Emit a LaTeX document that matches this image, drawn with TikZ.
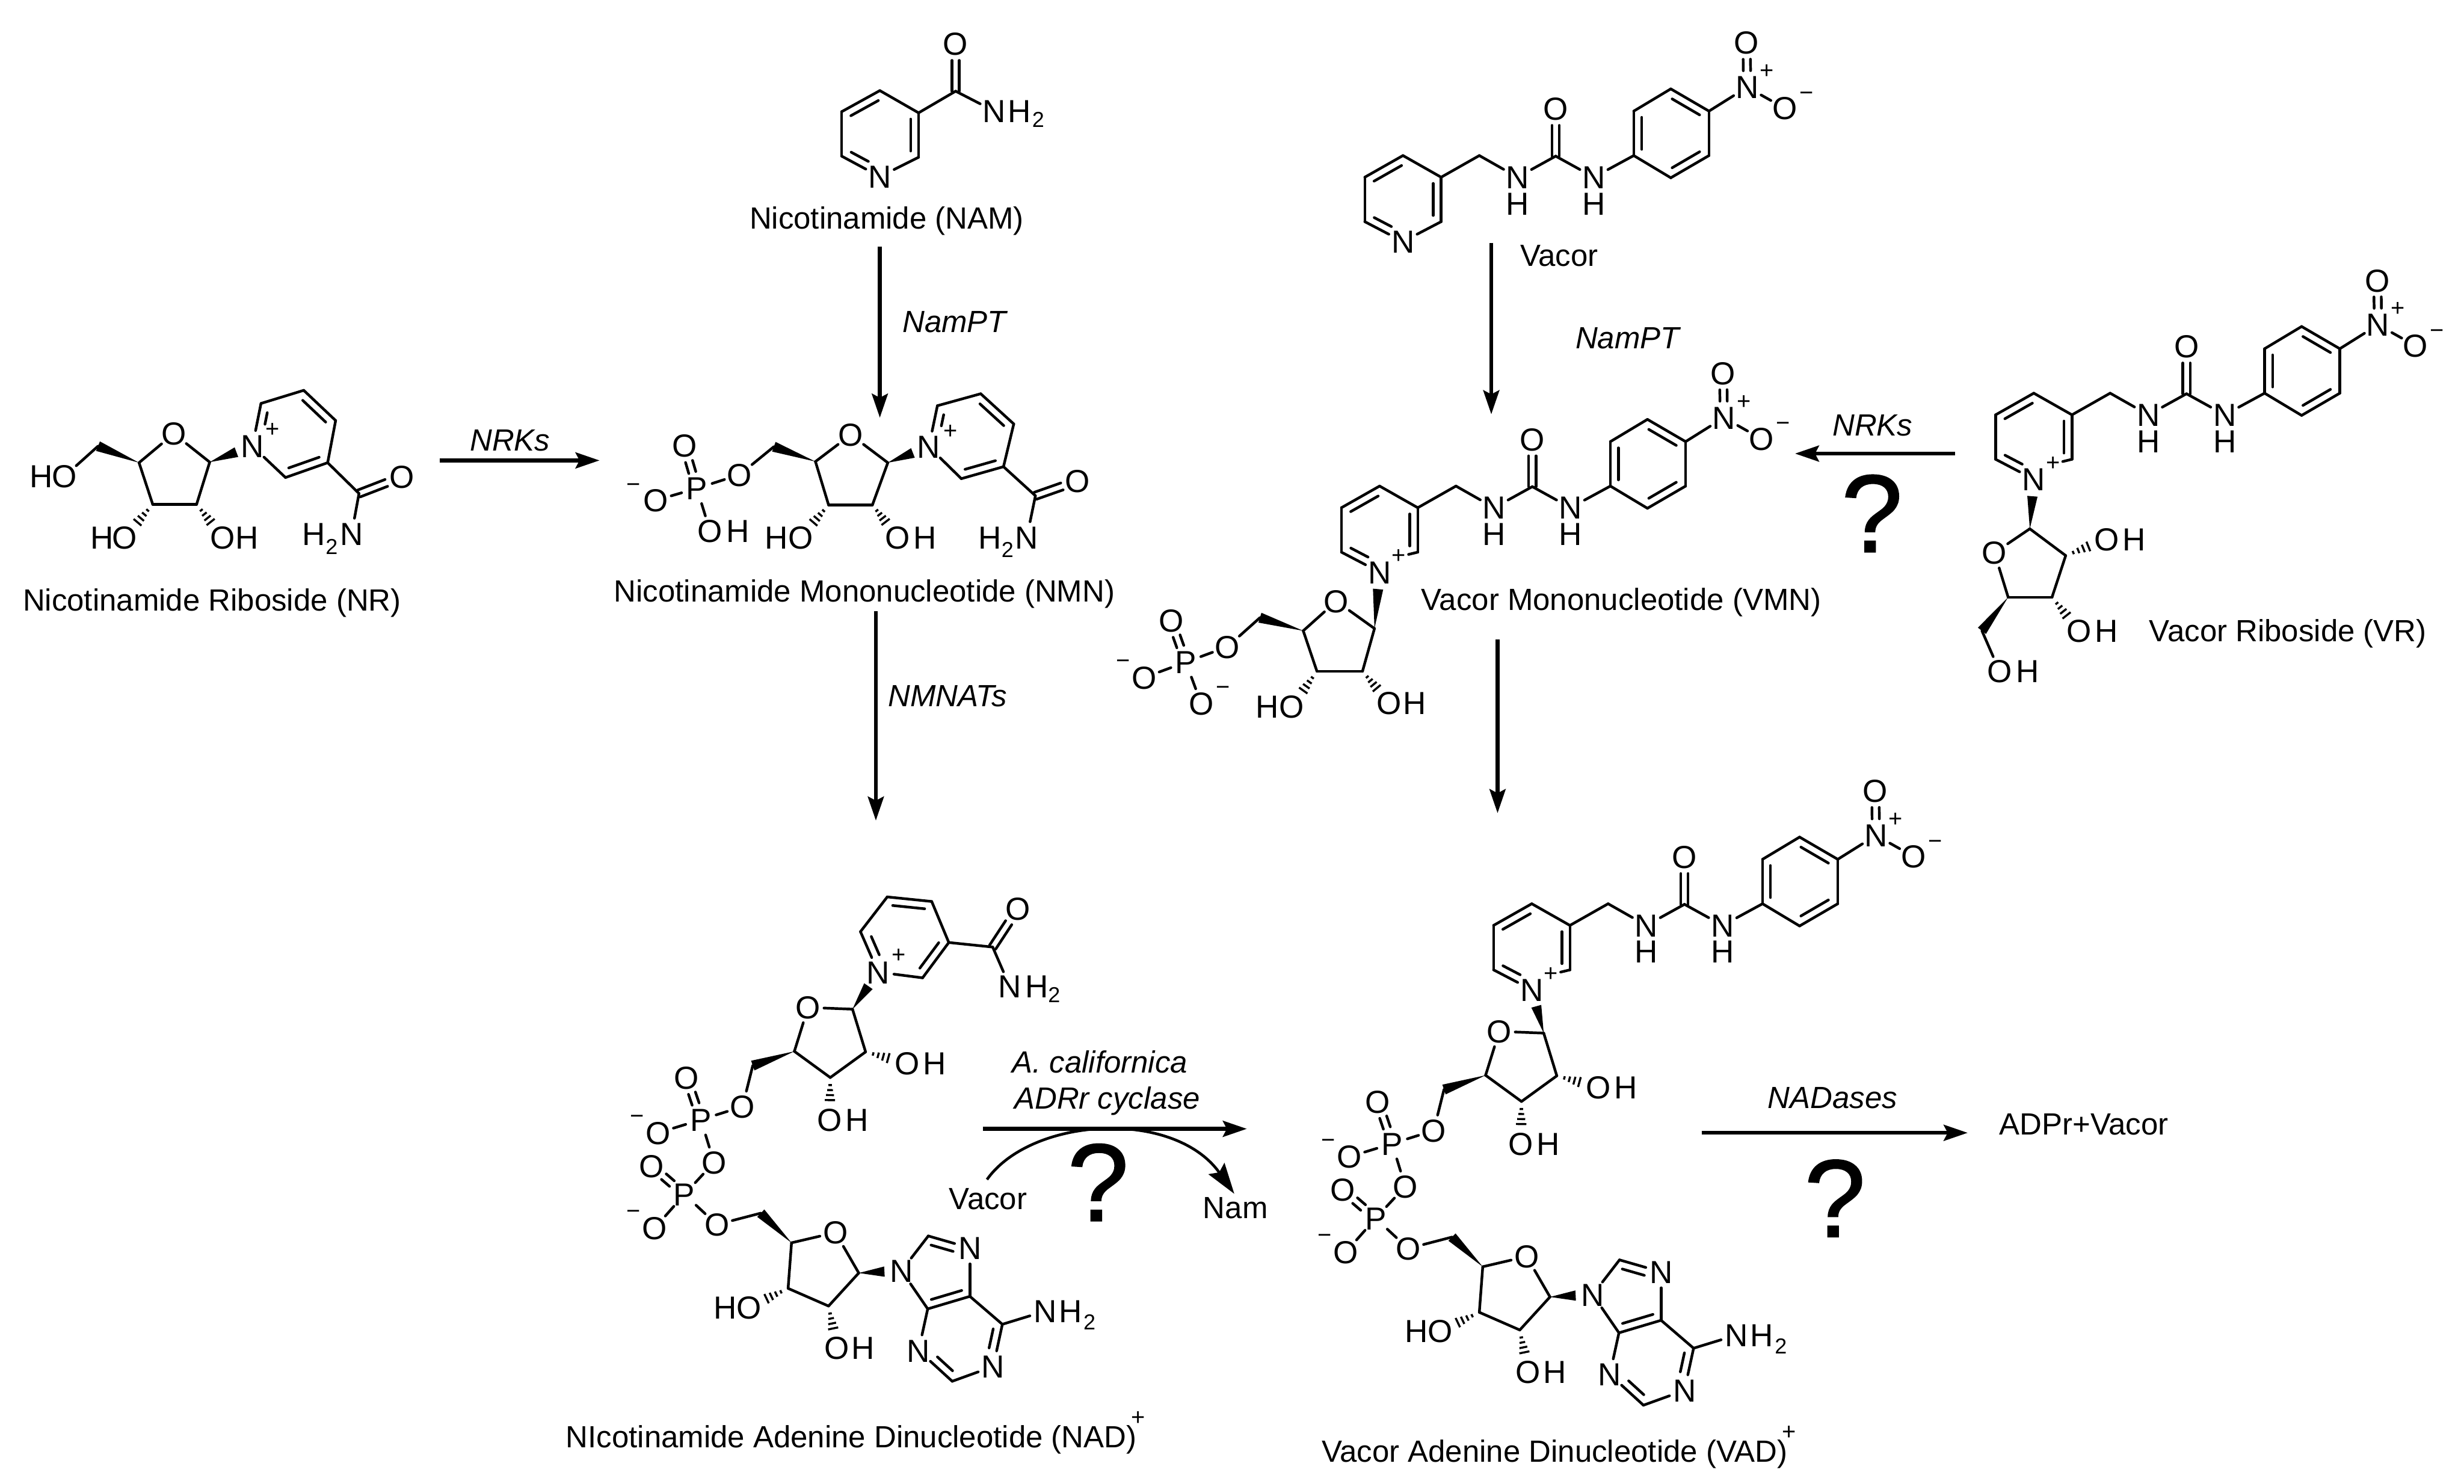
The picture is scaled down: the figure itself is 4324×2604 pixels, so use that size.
\documentclass[tikz,border=0pt]{standalone}
\usepackage{fontspec}
\setmainfont{Liberation Sans}
\newfontfamily\qmfont[FakeBold=1]{Liberation Sans}
\usetikzlibrary{calc,arrows.meta}
\tikzset{
 x=0.5pt,y=-0.5pt,
 bond/.style={line width=2.35pt,line cap=round,line join=round},
 hashb/.style={line width=1.8pt},
 atom/.style={circle,inner sep=0pt,outer sep=0pt,minimum size=28pt,text height=20pt,text depth=0pt,font=\fontsize{28}{30}\selectfont},
 sub/.style={inner sep=0pt,font=\fontsize{19}{20}\selectfont},
 chg/.style={circle,inner sep=0pt,outer sep=0pt,font=\fontsize{21}{22}\selectfont},
 lbl/.style={inner sep=0pt,text height=19.3pt,text depth=0pt,font=\fontsize{26.9}{30}\selectfont},
 enz/.style={inner sep=0pt,font=\fontsize{26.9}{30}\selectfont\itshape},
 qm/.style={inner sep=0pt,font=\fontsize{97}{100}\qmfont},
 arr/.style={line width=3.3pt,-{Stealth[length=21pt,width=14pt,inset=3.5pt]}},
 curvearr/.style={line width=2.4pt,-{Stealth[length=27pt,width=17pt,inset=4pt]}},
}
\newcommand\A[3]{\node[atom] (#1) at (#2) {\makebox[0pt]{#3}};}
\newcommand\Sb[3]{\node[sub] (#1) at (#2) {#3};}
\newcommand\Ch[3]{\node[chg] (#1) at (#2) {#3};}
\newcommand\C[2]{\coordinate (#1) at (#2);}
\newcommand\bonds[1]{\foreach \p/\q in {#1}{\draw[bond] (\p)--(\q);}}
% inner line of a ring double bond, on the right of a->b (inside when clockwise on the page)
\newcommand\rdb[4]{\draw[bond] ($(#1)!#3!(#2)!7pt!90:(#1)$) -- ($(#1)!#4!(#2)!7pt!90:(#1)$);}
\newcommand\rd[2]{\rdb{#1}{#2}{.14}{.86}}
% two-line double bond: #3,#4 how far each end stays from its atom
\newcommand\dblg[4]{%
 \draw[bond] ($(#1)!#3!(#2)!3.2pt!90:(#2)$) -- ($(#2)!#4!(#1)!3.2pt!-90:(#1)$);
 \draw[bond] ($(#1)!#3!(#2)!3.2pt!-90:(#2)$) -- ($(#2)!#4!(#1)!3.2pt!90:(#1)$);}
\newcommand\dbl[2]{\dblg{#1}{#2}{0pt}{14.5pt}}
\newcommand\dbla[2]{\dblg{#1}{#2}{14.5pt}{14.5pt}}
\newcommand\wdg[3]{\fill (#1) -- ($(#2)!#3!(#1)!4.5pt!90:(#1)$) -- ($(#2)!#3!(#1)!4.5pt!-90:(#1)$) -- cycle;}
\newcommand\hsh[2]{\coordinate (hx) at ($(#2)!15pt!(#1)$);
 \foreach \f/\w in {.3/1.5pt,.5/2.5pt,.7/3.5pt,.9/4.5pt}{\draw[hashb] ($(#1)!\f!(hx)!\w!90:(#1)$) -- ($(#1)!\f!(hx)!\w!-90:(#1)$);}}
% vacor skeleton, #4 = how the ring carbon C2 meets the ring nitrogen
\newcommand\ureapart[4]{\begin{scope}[shift={(#2,#3)},name prefix=#1-]
 \C{c4}{2462,273}\C{c5}{2395,311}\C{c6}{2395,389}\A{n}{2462,424}{N}\C{c2}{2529,389}\C{c3}{2529,311}
 \C{ch}{2596,273}\A{na}{2663,311}{N}\A{ha}{2663,357}{H}\C{co}{2730,274}\A{o}{2730,191}{O}
 \A{nb}{2797,311}{N}\A{hb}{2797,357}{H}
 \C{p1}{2867,273}\C{p2}{2867,195}\C{p3}{2932,156}\C{p4}{2999,195}\C{p5}{2999,273}\C{p6}{2932,312}
 \A{nn}{3066,153}{N}\Ch{np}{3101,126}{+}\A{no}{3065,75}{O}\A{nm}{3132,190}{O}\Ch{nc}{3170,169}{−}
 #4
 \bonds{c3/c2,n/c6,c6/c5,c5/c4,c4/c3,c3/ch,ch/na,na/co,co/nb,nb/p1,p1/p2,p2/p3,p3/p4,p4/p5,p5/p6,p6/p1,p4/nn,nn/nm}
 \dbl{co}{o}\dbla{nn}{no}
 \rd{c3}{c2}\rdb{n}{c6}{.4}{.85}\rd{c5}{c4}\rd{p1}{p2}\rd{p3}{p4}\rd{p5}{p6}
\end{scope}}
% diphospho-ribose and adenosine part
\newcommand\adpr[3]{\begin{scope}[shift={(#2,#3)},name prefix=#1-]
 \C{c1}{1496,1771}\A{or}{1418,1768}{O}\C{c4}{1394,1845}\C{c3}{1457,1891}\C{c2}{1519,1846}
 \A{oa}{1592,1866}{O}\A{ha}{1640,1866}{H}\A{ob}{1456,1965}{O}\A{hb}{1504,1965}{H}
 \C{c5}{1321,1870}\A{oe}{1303,1942}{O}\A{pa}{1230,1965}{P}\A{od}{1205,1891}{O}\A{om}{1155,1988}{O}\Ch{mm}{1118,1965}{−}
 \A{ob2}{1253,2040}{O}\A{pb}{1201,2096}{P}\A{od2}{1143,2046}{O}\A{om2}{1149,2155}{O}\Ch{mm2}{1112,2132}{−}
 \A{oe2}{1258,2149}{O}\C{d5}{1335,2129}\C{d4}{1389,2181}\A{or2}{1466,2163}{O}\C{d1}{1507,2234}\C{d2}{1454,2292}\C{d3}{1383,2261}
 \A{hc}{1273,2294}{H}\A{oc}{1314,2294}{O}\A{od3}{1469,2365}{O}\A{hd}{1515,2365}{H}
 \A{n9}{1582,2230}{N}\C{c8}{1629,2169}\A{n7}{1702,2190}{N}\C{a5}{1702,2275}\C{a4}{1628,2297}\A{n3}{1612,2370}{N}\C{a2}{1671,2424}\A{n1}{1743,2398}{N}\C{a6}{1759,2324}
 \A{n6}{1834,2301}{N}\A{h6}{1879,2301}{H}\Sb{s6}{1912,2320}{2}
 \bonds{c1/or,or/c4,c4/c3,c3/c2,c2/c1,c5/oe,oe/pa,pa/om,pa/ob2,ob2/pb,pb/om2,pb/oe2,oe2/d5,d4/or2,or2/d1,d1/d2,d2/d3,d3/d4,n9/c8,c8/n7,n7/a5,a5/a4,a4/n9,a4/n3,n3/a2,a2/n1,n1/a6,a6/a5,a6/n6}
 \wdg{c4}{c5}{0pt}\wdg{d4}{d5}{0pt}\wdg{d1}{n9}{15pt}
 \hsh{c2}{oa}\hsh{c3}{ob}\hsh{d3}{oc}\hsh{d2}{od3}
 \dbla{pa}{od}\dbla{pb}{od2}
 \rdb{c8}{n7}{.12}{.65}\rd{a5}{a4}\rdb{a6}{n1}{.15}{.6}\rdb{a2}{n3}{.15}{.6}
\end{scope}}
\begin{document}
\begin{tikzpicture}
\useasboundingbox (0,0) rectangle (4324,2604);
% ---------- NR
\C{rO5}{172,783}\A{rh5}{72,836}{H}\A{ro5}{113,836}{O}
\A{ror}{305,761}{O}\C{rc1}{368,811}\C{rc2}{345,885}\C{rc3}{268,885}\C{rc4}{244,812}
\A{rh3}{179,943}{H}\A{ro3}{219,943}{O}\A{ro2}{391,943}{O}\A{rh2}{434,943}{H}
\A{rn}{443,783}{N}\Ch{rp}{478,755}{+}
\C{ra2}{458,708}\C{ra3}{533,685}\C{ra4}{589,738}\C{ra5}{575,812}\C{ra6}{501,838}
\C{rco}{630,866}\A{roa}{705,837}{O}\A{rna}{617,937}{N}\A{rha}{551,937}{H}\Sb{rsa}{582,960}{2}
\bonds{rO5/ro5,rc4/ror,ror/rc1,rc1/rc2,rc2/rc3,rc3/rc4,rn/ra2,ra2/ra3,ra3/ra4,ra4/ra5,ra5/ra6,ra6/rn,ra5/rco,rco/rna}
\wdg{rc4}{rO5}{0pt}\wdg{rc1}{rn}{15pt}\hsh{rc3}{ro3}\hsh{rc2}{ro2}
\rdb{rn}{ra2}{.55}{.82}\rd{ra3}{ra4}\rd{ra5}{ra6}\dbl{rco}{roa}
\node[lbl] (lnr) at (372,1053) {Nicotinamide Riboside (NR)};
% ---------- NAM
\A{ao}{1677,77}{O}\C{ac}{1677,160}\A{an}{1745,195}{N}\A{ah}{1789,195}{H}\Sb{as}{1822,210}{2}
\C{a3}{1612,198}\C{a4}{1544,159}\C{a5}{1477,196}\C{a6}{1477,274}\A{an1}{1544,310}{N}\C{a2}{1612,276}
\bonds{a3/a2,a2/an1,an1/a6,a6/a5,a5/a4,a4/a3,a3/ac,ac/an}
\dbl{ac}{ao}\rd{a3}{a2}\rdb{an1}{a6}{.4}{.85}\rd{a5}{a4}
\node[lbl] (lnam) at (1556,382) {Nicotinamide (NAM)};
% ---------- NMN
\A{mod}{1201,782}{O}\A{mp}{1223,857}{P}\A{moe}{1298,833}{O}\A{mom}{1151,878}{O}\Ch{mmi}{1112,856}{−}
\A{moh}{1246,932}{O}\A{mhh}{1295,932}{H}
\C{mc5}{1358,784}\C{mc4}{1431,810}\A{mor}{1493,763}{O}\C{mc1}{1558,812}\C{mc2}{1531,886}\C{mc3}{1454,886}
\A{mn}{1630,784}{N}\Ch{mpl}{1668,758}{+}
\C{ma2}{1645,712}\C{ma3}{1721,691}\C{ma4}{1779,744}\C{ma5}{1761,819}\C{ma6}{1687,840}
\C{mco}{1817,870}\A{moa}{1891,844}{O}\A{mna}{1802,943}{N}\A{mha}{1737,943}{H}\Sb{msa}{1768,965}{2}
\A{mh3}{1363,943}{H}\A{mo3}{1405,943}{O}\A{mo2}{1575,943}{O}\A{mh2}{1623,943}{H}
\bonds{mp/moe,mp/mom,mp/moh,moe/mc5,mc4/mor,mor/mc1,mc1/mc2,mc2/mc3,mc3/mc4,mn/ma2,ma2/ma3,ma3/ma4,ma4/ma5,ma5/ma6,ma6/mn,ma5/mco,mco/mna}
\dbla{mp}{mod}\dbl{mco}{moa}\wdg{mc4}{mc5}{0pt}\wdg{mc1}{mn}{15pt}\hsh{mc3}{mo3}\hsh{mc2}{mo2}
\rdb{mn}{ma2}{.55}{.82}\rd{ma3}{ma4}\rd{ma5}{ma6}
\node[lbl] (lnmn) at (1517,1037) {Nicotinamide Mononucleotide (NMN)};
% ---------- Vacor
\ureapart{v}{0}{0}{\bonds{c2/n}}
\node[lbl] (lvac) at (2736,448) {Vacor};
% ---------- VMN
\ureapart{w}{-41}{580}{\Ch{plus}{2496,397}{+}\bonds{c2/plus}}
\C{wc1}{2412,1103}\A{wor}{2345,1055}{O}\C{wc4}{2287,1107}\C{wc3}{2311,1178}\C{wc2}{2391,1178}\C{wc5}{2211,1084}
\A{woe}{2154,1135}{O}\A{wp}{2081,1162}{P}\A{wod}{2055,1089}{O}\A{woa}{2008,1189}{O}\Ch{wma}{1971,1166}{−}
\A{wob}{2108,1235}{O}\Ch{wmb}{2146,1212}{−}
\A{wh3}{2224,1240}{H}\A{wo3}{2267,1240}{O}\A{wo2}{2438,1234}{O}\A{wh2}{2483,1234}{H}
\bonds{wc1/wor,wor/wc4,wc4/wc3,wc3/wc2,wc2/wc1,wc5/woe,woe/wp,wp/woa,wp/wob}
\dbla{wp}{wod}\wdg{wc4}{wc5}{0pt}\wdg{wc1}{w-n}{15pt}\hsh{wc3}{wo3}\hsh{wc2}{wo2}
\node[lbl] (lvmn) at (2845,1052) {Vacor Mononucleotide (VMN)};
% ---------- VR
\ureapart{x}{1107}{417}{\Ch{plus}{2496,397}{+}\bonds{c2/plus}}
\C{xc1}{3562,928}\A{xor}{3500,970}{O}\C{xc4}{3524,1048}\C{xc3}{3601,1048}\C{xc2}{3625,975}\C{xc5}{3478,1107}
\A{xoa}{3697,946}{O}\A{xha}{3745,946}{H}\A{xob}{3648,1107}{O}\A{xhb}{3697,1107}{H}\A{xoc}{3509,1178}{O}\A{xhc}{3558,1178}{H}
\bonds{xc1/xor,xor/xc4,xc4/xc3,xc3/xc2,xc2/xc1,xc5/xoc}
\wdg{xc4}{xc5}{0pt}\wdg{xc1}{x-n}{15pt}\hsh{xc2}{xoa}\hsh{xc3}{xob}
\node[lbl] (lvr) at (4015,1107) {Vacor Riboside (VR)};
% ---------- NAD
\adpr{d}{0}{0}
\A{dn}{1541,1706}{N}\Ch{dpl}{1577,1677}{+}\C{d2p}{1510,1635}\C{d3p}{1557,1574}\C{d4p}{1635,1582}\C{d5p}{1665,1654}\C{d6p}{1619,1716}
\C{dco}{1742,1662}\A{doa}{1786,1595}{O}\A{dna}{1772,1731}{N}\A{dha}{1820,1731}{H}\Sb{dsa}{1850,1746}{2}
\bonds{dn/d2p,d2p/d3p,d3p/d4p,d4p/d5p,d5p/d6p,d6p/dn,d5p/dco,dco/dna}
\dbl{dco}{doa}\wdg{d-c1}{dn}{15pt}\rdb{dn}{d2p}{.35}{.8}\rd{d3p}{d4p}\rd{d5p}{d6p}
\node[lbl] (lnad) at (1494,2521) {NIcotinamide Adenine Dinucleotide (NAD)};
\Ch{lnadp}{1997,2489}{+}
% ---------- VAD
\ureapart{y}{226}{1313}{\Ch{plus}{2496,397}{+}\bonds{c2/plus}}
\adpr{e}{1213}{42}
\wdg{e-c1}{y-n}{15pt}
\node[lbl] (lvad) at (2728,2546) {Vacor Adenine Dinucleotide (VAD)};
\Ch{lvadp}{3140,2515}{+}
% ---------- arrows
\C{s1}{772,808}\C{e1}{1052,808}\draw[arr] (s1)--(e1);
\node[enz] (t1) at (895,773) {NRKs};
\C{s2}{1544,433}\C{e2}{1544,733}\draw[arr] (s2)--(e2);
\node[enz] (t2) at (1675,565) {NamPT};
\C{s3}{1537,1073}\C{e3}{1537,1440}\draw[arr] (s3)--(e3);
\node[enz] (t3) at (1663,1222) {NMNATs};
\C{s4}{2617,426}\C{e4}{2617,727}\draw[arr] (s4)--(e4);
\node[enz] (t4) at (2856,593) {NamPT};
\C{s5}{3431,796}\C{e5}{3150,796}\draw[arr] (s5)--(e5);
\node[enz] (t5) at (3286,747) {NRKs};
\node[qm] (q5) at (3285,901) {?};
\C{s6}{2628,1122}\C{e6}{2628,1427}\draw[arr] (s6)--(e6);
\C{s7}{1725,1981}\C{e7}{2188,1981}\draw[arr] (s7)--(e7);
\node[enz] (t7a) at (1930,1863) {A. californica};
\node[enz] (t7b) at (1943,1932) {ADRr cyclase};
\node[qm] (q7) at (1927,2075) {?};
\node[lbl] (tvac) at (1734,2103) {Vacor};
\node[lbl] (tnam) at (2168,2119) {Nam};
\C{s8}{1732,2070}\C{e8}{2166,2095}
\draw[curvearr] (s8) .. controls (1810,1960) and (2060,1945) .. (e8);
\C{s9}{2986,1988}\C{e9}{3453,1988}\draw[arr] (s9)--(e9);
\node[enz] (t9) at (3216,1927) {NADases};
\node[qm] (q9) at (3220,2103) {?};
\node[lbl] (tadpr) at (3657,1972) {ADPr+Vacor};
\end{tikzpicture}
\end{document}
